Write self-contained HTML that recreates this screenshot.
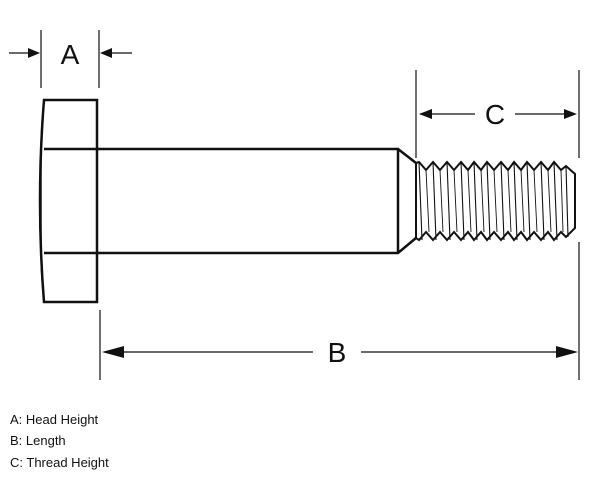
<!DOCTYPE html>
<html><head><style>
body{margin:0;background:#fff;width:600px;height:500px;overflow:hidden;font-family:"Liberation Sans",sans-serif}
.leg{position:absolute;left:10px;font-size:13px;color:#111}
</style></head><body>
<svg width="600" height="500" style="position:absolute;left:0;top:0">
<g stroke="#111" fill="none">
<!-- A dims -->
<line x1="41" y1="30" x2="41" y2="88" stroke-width="1.2"/>
<line x1="99" y1="30" x2="99" y2="88" stroke-width="1.2"/>
<line x1="9" y1="53" x2="30" y2="53" stroke-width="1.2"/>
<line x1="110" y1="53" x2="132" y2="53" stroke-width="1.2"/>
<!-- head -->
<path d="M44 100 H97 V302 H44 Q36 201 44 100 Z" stroke-width="2.5"/>
<path d="M44 100 Q41 130 41 150 V250 Q41 275 44 302" stroke-width="1.5"/>
<line x1="44" y1="149" x2="97" y2="149" stroke-width="2.5"/>
<line x1="44" y1="253" x2="97" y2="253" stroke-width="2.5"/>
<!-- shank -->
<path d="M97 149 H398 L416 163 M97 253 H398 L416 238 M398 149 V253" stroke-width="2.5"/>
<!-- C dims -->
<line x1="416" y1="70" x2="416" y2="158" stroke-width="1.2"/>
<line x1="579" y1="70" x2="579" y2="158" stroke-width="1.2"/>
<line x1="420" y1="114" x2="475" y2="114" stroke-width="1.2"/>
<line x1="515" y1="114" x2="572" y2="114" stroke-width="1.2"/>
<!-- B dims -->
<line x1="100" y1="310" x2="100" y2="380" stroke-width="1.2"/>
<line x1="579" y1="242" x2="579" y2="380" stroke-width="1.2"/>
<line x1="105" y1="352" x2="313" y2="352" stroke-width="1.2"/>
<line x1="361" y1="352" x2="575" y2="352" stroke-width="1.2"/>
</g>
<g fill="#111">
<polygon points="40,53 28,48 28,58"/>
<polygon points="100,53 112,48 112,58"/>
<polygon points="419,114 432,109 432,119"/>
<polygon points="577,114 564,109 564,119"/>
<polygon points="102,352 124,346 124,358"/>
<polygon points="578,352 556,346 556,358"/>
</g>
<!-- thread -->
<g stroke="#111" fill="none" stroke-width="2">
<path d="M416 163 L419 162 L426 170 L433 162 L440 170 L447 162 L454 170 L461 162 L468 170 L474 162 L481 170 L487 162 L494 170 L501 162 L508 170 L514 162 L521 170 L527 162 L534 170 L541 162 L548 170 L554 162 L561 170 L566 166 L575 174 L575 228 L566 237 L561 232 L554 240 L548 232 L541 240 L534 232 L527 240 L521 232 L514 240 L508 232 L501 240 L494 232 L487 240 L481 232 L474 240 L468 232 L461 240 L454 232 L447 240 L440 232 L433 240 L426 232 L419 240 L416 238 Z"/>
<path d="M419 162 L422 240 M433 162 L436 240 M447 162 L450 240 M461 162 L464 240 M474 162 L477 240 M487 162 L490 240 M501 162 L504 240 M514 162 L517 240 M527 162 L530 240 M541 162 L544 240 M554 162 L557 240 M566 166 L568 237" stroke-width="1.1"/>
<path d="M426 170 L429 232 M440 170 L443 232 M454 170 L457 232 M468 170 L471 232 M481 170 L484 232 M494 170 L497 232 M508 170 L511 232 M521 170 L524 232 M534 170 L537 232 M548 170 L551 232 M561 170 L563 232" stroke-width="0.9"/>
</g>
<g font-family="Liberation Sans, sans-serif" font-size="28" fill="#111" text-anchor="middle">
<text x="70" y="64">A</text>
<text x="495" y="124">C</text>
<text x="337" y="362">B</text>
</g>
</svg>
<div class="leg" style="top:412px">A: Head Height</div>
<div class="leg" style="top:433px">B: Length</div>
<div class="leg" style="top:455px">C: Thread Height</div>
</body></html>
